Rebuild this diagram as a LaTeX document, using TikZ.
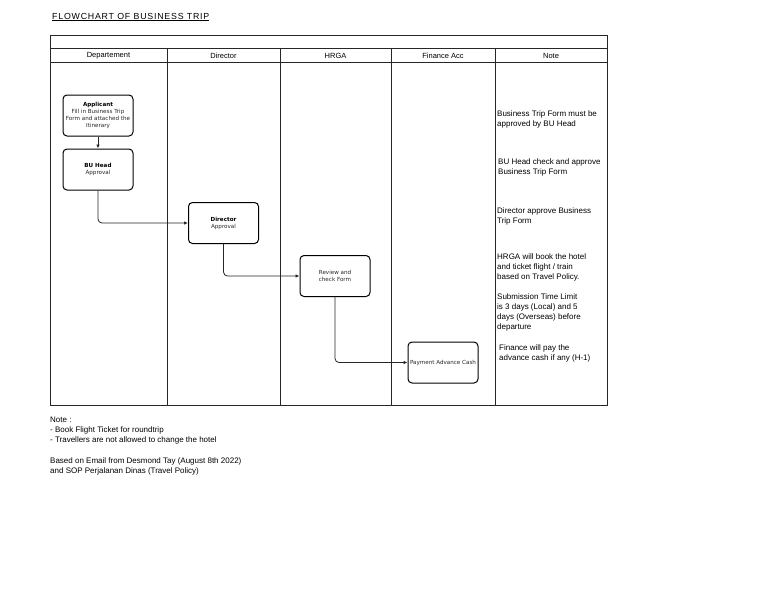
\documentclass[tikz,border=0pt]{standalone}
\usepackage{fontspec}
\setmainfont{Liberation Sans}
\newfontfamily\boxfont{DejaVu Sans}
\usetikzlibrary{arrows.meta,positioning}
\tikzset{
    %Define standard arrow tip
    >={Latex[length=4pt,width=3.5pt]},
    %Define style for boxes
    stepbox/.style={
		rectangle,
		rounded corners=4pt,
		draw=black, line width=1pt,
		minimum width=70pt,
		minimum height=41pt,
		inner xsep=1.5pt,
		align=center,
		text=black!85,
		font=\boxfont\fontsize{5.6}{7}\selectfont},
	line/.style = {
		->,
		draw=black!85,
		line width=0.8pt,
		rounded corners=4pt},
	lane/.style = {draw=black!85, line width=1pt},
	head/.style = {font=\fontsize{7.5}{8}\selectfont},
	memo/.style = {
		anchor=north west,
		align=left,
		inner sep=0pt,
		font=\fontsize{8}{10}\selectfont}
}

\begin{document}
\begin{tikzpicture}[x=1pt, y=-1pt, node distance=12pt]
			\useasboundingbox[fill=white] (0,0) rectangle (768,595);
			% title
			\node[anchor=west, inner sep=0pt, font=\fontsize{8.8}{10}\selectfont\addfontfeature{LetterSpace=9}] (title) at (52,17) {\underline{FLOWCHART OF BUSINESS TRIP}};
			% swimlanes
			\draw[lane] (50,35) rectangle (607,405);
			\draw[lane] (50,48) -- (607,48);
			\draw[lane] (50,62) -- (607,62);
			\foreach \x in {167,280,391,495}
				\draw[lane] (\x,48) -- (\x,405);
			\foreach \x/\name in {108.5/Departement, 223.5/Director, 335.5/HRGA, 443/Finance Acc, 551/Note}
				\node[head] at (\x,56) {\name};
			% steps
			\node[stepbox] (applicant) at (98,115.5) {\textcolor{black}{\bfseries Applicant}\\Fill in Business Trip\\Form and attached the\\Itinerary};
			\node[stepbox, below=12pt of applicant] (buhead) {\textcolor{black}{\bfseries BU Head}\\Approval};
			\node[stepbox] (director) at (223.5,223) {\textcolor{black}{\bfseries Director}\\Approval};
			\node[stepbox] (review) at (335,276) {Review and\\check Form};
			\node[stepbox] (payment) at (443,362.5) {Payment Advance Cash};
			\path[line] (applicant) -- (buhead);
			\path[line] (buhead.south) |- (director.west);
			\path[line] (director.south) |- (review.west);
			\path[line] (review.south) |- (payment.west);
			% notes
			\node[memo] (note1) at (497,110) {Business Trip Form must be\\approved by BU Head};
			\node[memo] (note2) at (498,158) {BU Head check and approve\\Business Trip Form};
			\node[memo] (note3) at (497,207) {Director approve Business\\Trip Form};
			\node[memo] (note4) at (497,253) {HRGA will book the hotel\\and ticket flight / train\\based on Travel Policy.};
			\node[memo] (note5) at (497,293) {Submission Time Limit\\is 3 days (Local) and 5\\days (Overseas) before\\departure};
			\node[memo] (note6) at (499,344) {Finance will pay the\\advance cash if any (H-1)};
			% remarks
			\node[memo] (remarks) at (50,417) {Note :\\- Book Flight Ticket for roundtrip\\- Travellers are not allowed to change the hotel\\[11pt]Based on Email from Desmond Tay (August 8th 2022)\\and SOP Perjalanan Dinas (Travel Policy)};
		\end{tikzpicture}
\end{document}
